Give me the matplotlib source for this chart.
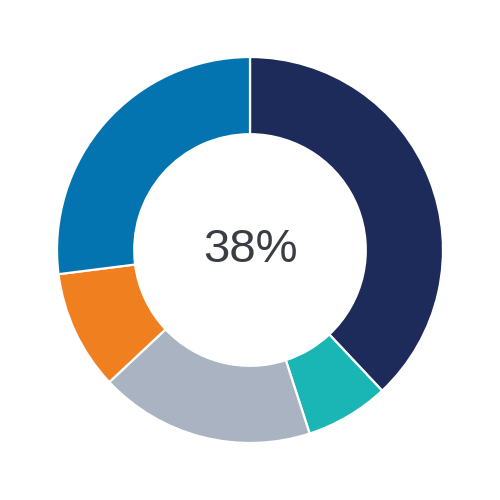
import matplotlib.pyplot as plt

# segment shares, clockwise from 12 o'clock
labels = ['Navy', 'Teal', 'Gray', 'Orange', 'Blue']
shares = [38, 7, 18, 10, 27]
colors = ['#1c2b5a', '#1ab5b5', '#a9b3c1', '#f07f20', '#0474b1']
center_text = '38%'

fig = plt.figure(figsize=(5, 5), dpi=100)
ax = fig.add_axes([0, 0, 1, 1])
ax.pie(shares, colors=colors, startangle=90, counterclock=False, radius=1,
       wedgeprops=dict(width=0.4, edgecolor='white', linewidth=1.6))
ax.text(0, 0, center_text, ha='center', va='center', fontsize=34,
        color='#3a3e44', family='Liberation Sans')
lim = 250 / 193
ax.set_xlim(-lim, lim)
ax.set_ylim(-lim, lim)
ax.set_aspect('equal')
ax.axis('off')
fig.savefig('out.png', dpi=100, facecolor='white')
